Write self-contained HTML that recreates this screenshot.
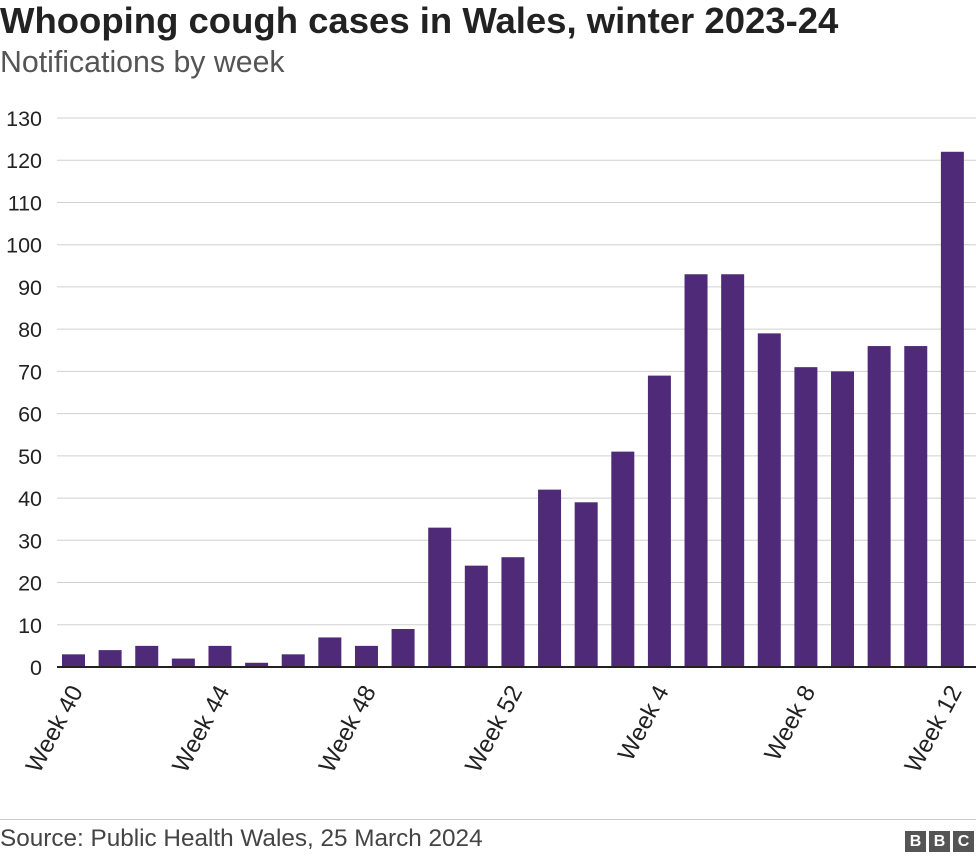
<!DOCTYPE html>
<html><head><meta charset="utf-8"><style>
body{margin:0;background:#fff;font-family:"Liberation Sans",Arial,sans-serif;}
#wrap{position:relative;width:976px;height:861px;overflow:hidden;}
.t{position:absolute;left:0;white-space:nowrap;}
</style></head><body>
<div id="wrap">
<div class="t" style="top:0px;font-size:36.5px;font-weight:bold;color:#222;">Whooping cough cases in Wales, winter 2023-24</div>
<div class="t" style="top:46px;font-size:30.3px;color:#555;">Notifications by week</div>
<svg id="svg" width="976" height="861" style="position:absolute;left:0;top:0"></svg>
<div style="position:absolute;left:0;top:819px;width:976px;height:1px;background:#ccc"></div>
<div class="t" style="top:825px;font-size:24.3px;color:#444;">Source: Public Health Wales, 25 March 2024</div>
<div style="position:absolute;right:2px;top:831px;display:flex;gap:3px;">
<span style="width:21px;height:21px;background:#555;color:#fff;font-weight:bold;font-size:16px;line-height:21px;text-align:center">B</span>
<span style="width:21px;height:21px;background:#555;color:#fff;font-weight:bold;font-size:16px;line-height:21px;text-align:center">B</span>
<span style="width:21px;height:21px;background:#555;color:#fff;font-weight:bold;font-size:16px;line-height:21px;text-align:center">C</span>
</div>
</div>
<script>
const categories=["Week 40","Week 41","Week 42","Week 43","Week 44","Week 45","Week 46","Week 47","Week 48","Week 49","Week 50","Week 51","Week 52","Week 1","Week 2","Week 3","Week 4","Week 5","Week 6","Week 7","Week 8","Week 9","Week 10","Week 11","Week 12"];
const values=[3,4,5,2,5,1,3,7,5,9,33,24,26,42,39,51,69,93,93,79,71,70,76,76,122];
const yTicks=[0,10,20,30,40,50,60,70,80,90,100,110,120,130];
const xTickLabels=["Week 40","Week 44","Week 48","Week 52","Week 4","Week 8","Week 12"];
const NS="http://www.w3.org/2000/svg",svg=document.getElementById('svg');
const y0=667,y1=118,yMax=130,xL=57,xR=976,pitch=36.62,x0=62,bw=23;
const y=v=>y0-(v/yMax)*(y0-y1);
const x=i=>x0+i*pitch;
function mk(t,a){const e=document.createElementNS(NS,t);for(const k in a)e.setAttribute(k,a[k]);svg.appendChild(e);return e;}
yTicks.forEach(v=>{
 const g=mk('line',{x1:xL,x2:xR,y1:y(v),y2:y(v),stroke:v===0?'#222':'#d0d0d0','stroke-width':v===0?2:1});
 
 
 const t=mk('text',{x:42,y:y(v)+8,'text-anchor':'end','font-size':21.5,fill:'#222','font-family':'Liberation Sans, Arial, sans-serif'});
 t.textContent=v;
 
 
});
values.forEach((v,i)=>{
 const r=mk('rect',{x:x(i),y:y(v),width:bw,height:y0-y(v)-1,fill:'#4e2a78'});
 
 
});
categories.forEach((c,i)=>{
 if(xTickLabels.indexOf(c)<0)return;
 const cx=x(i)+bw/2+10,cy=691;
 const t=mk('text',{x:cx,y:cy,'text-anchor':'end','font-size':24,fill:'#222','font-family':'Liberation Sans, Arial, sans-serif',transform:`rotate(-62 ${cx} ${cy})`});
 t.textContent=c;
 
 
});
</script>
</body></html>
